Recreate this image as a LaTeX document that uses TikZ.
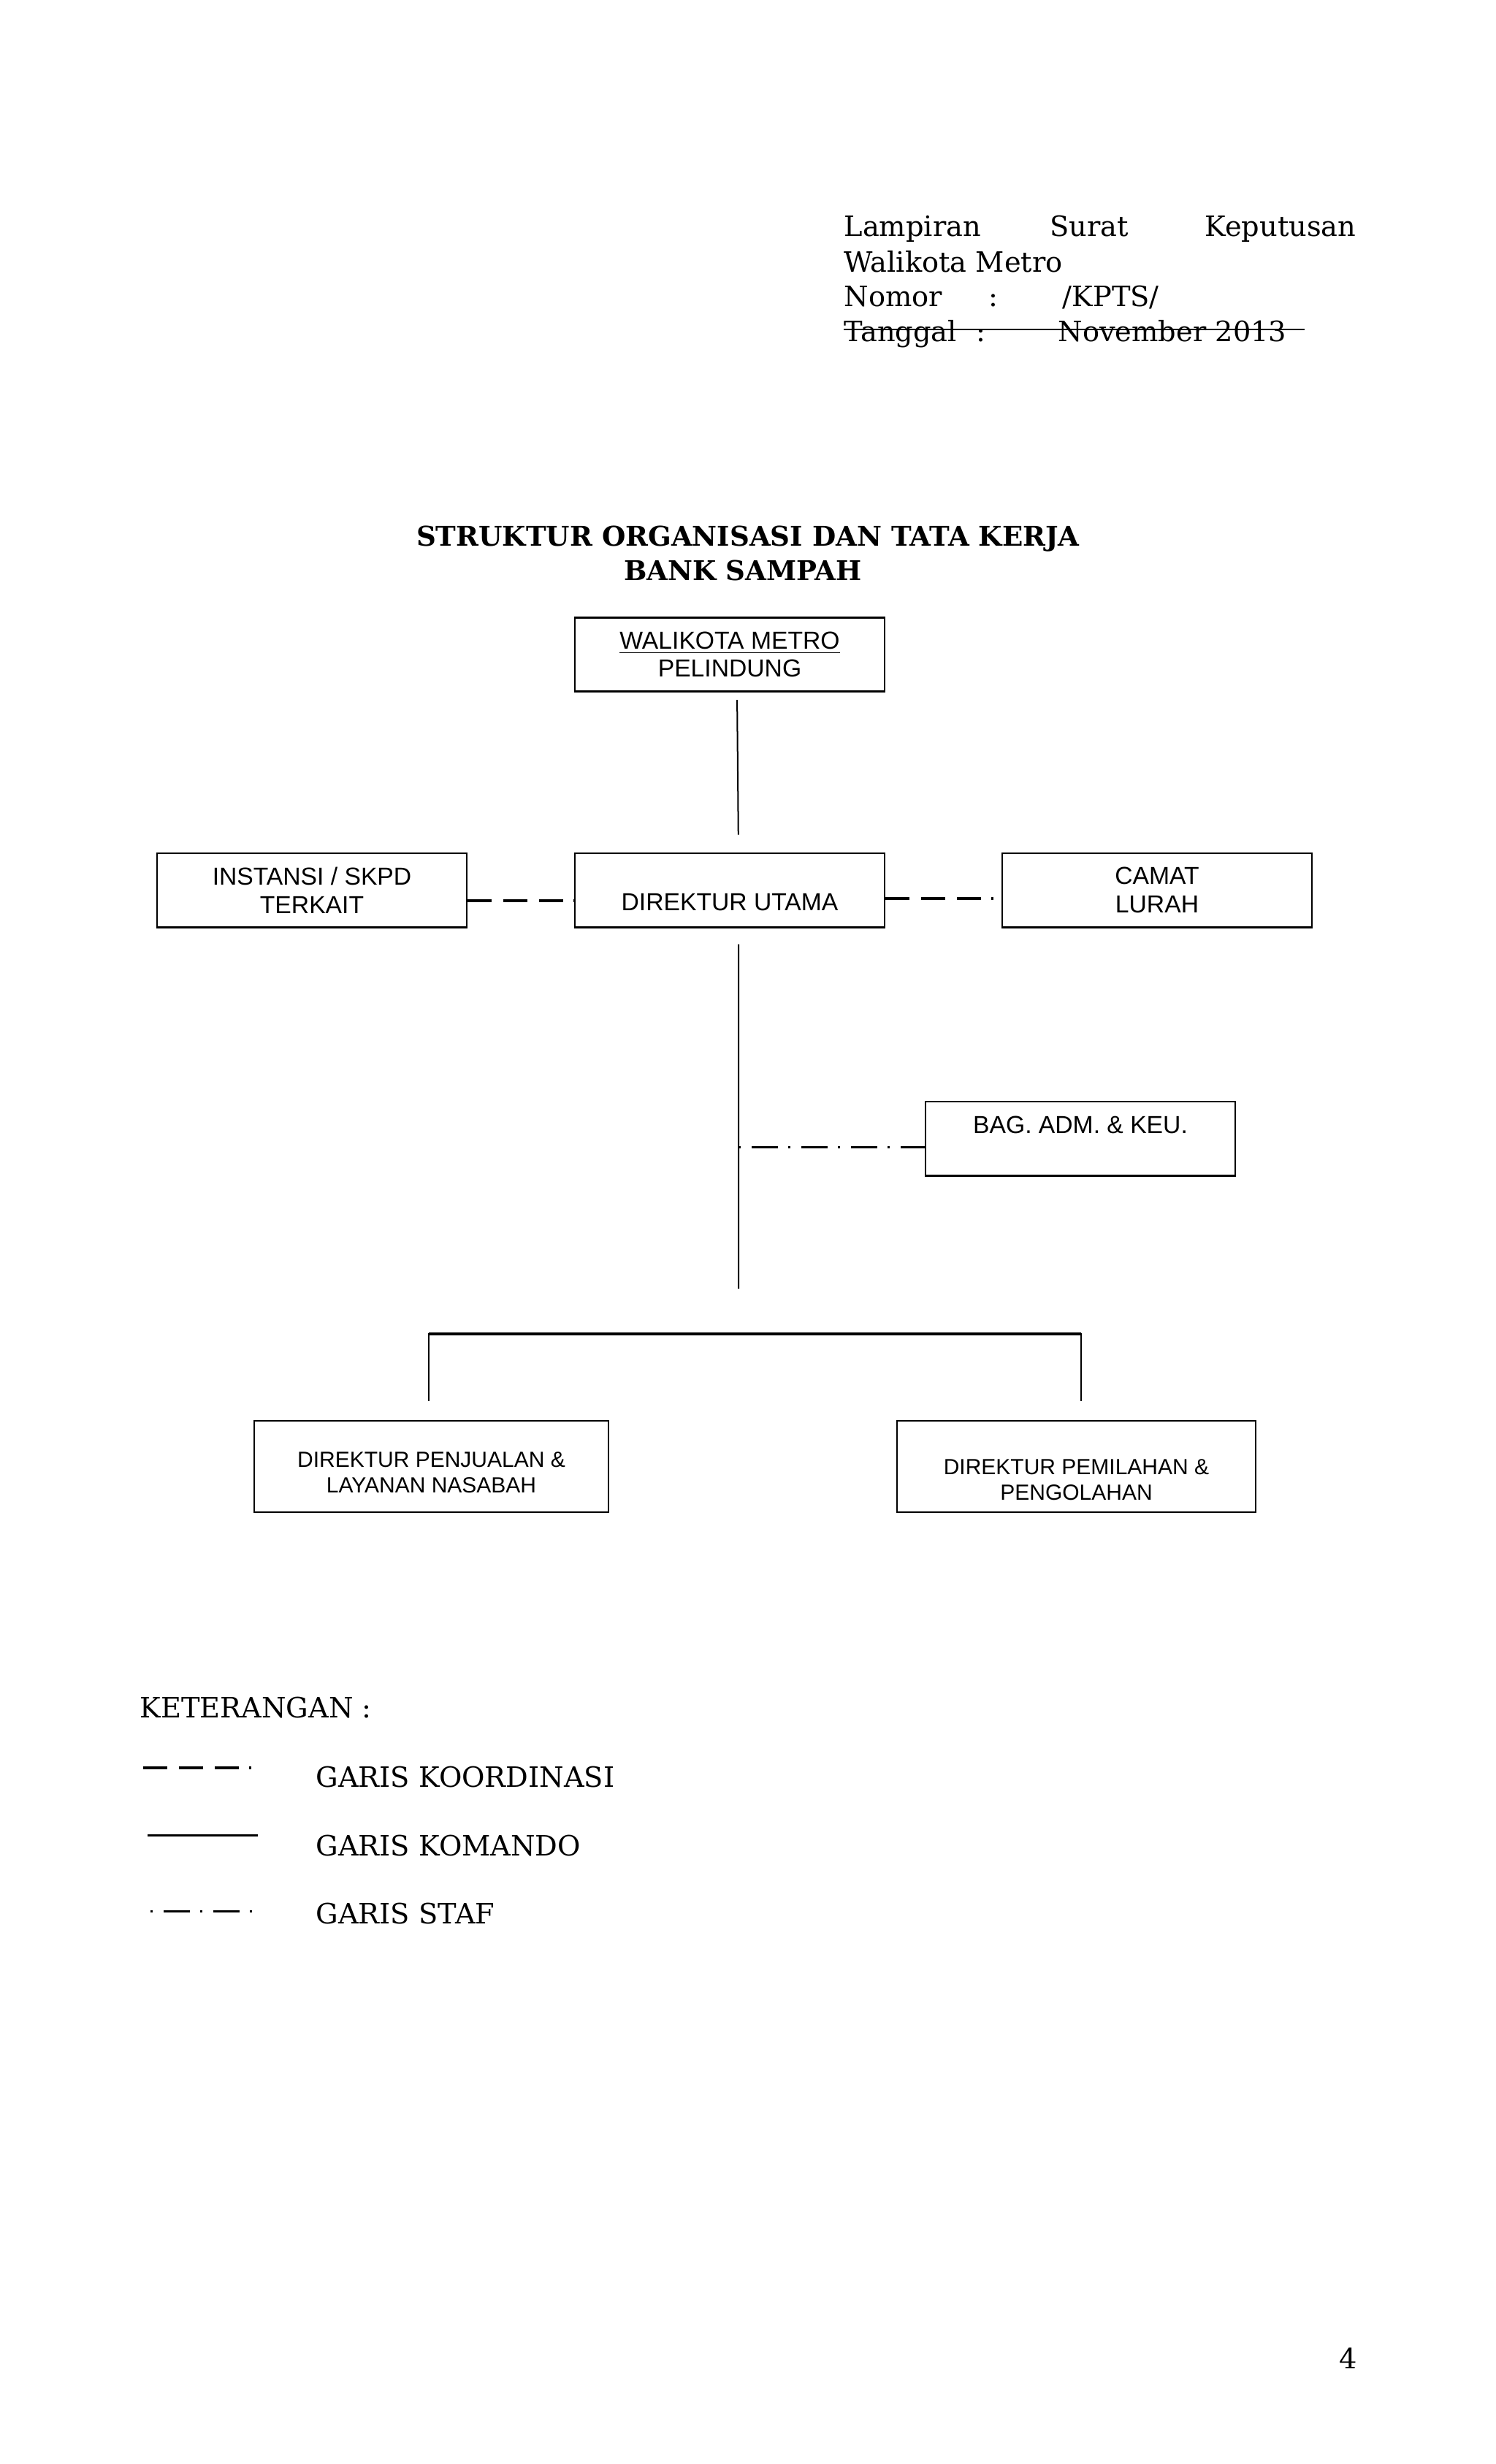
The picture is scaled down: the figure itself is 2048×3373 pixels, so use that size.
\documentclass[tikz,border=0pt]{standalone}
\usepackage{fontspec}
\setmainfont{DejaVu Serif}
\newfontfamily\boxfont{Liberation Sans}
\begin{document}
\begin{tikzpicture}[x=0.3pt,y=-0.3pt,
  txt/.style={inner sep=0pt, font=\fontsize{11.5}{13.8}\selectfont},
  ttl/.style={inner sep=0pt, font=\bfseries\fontsize{11.15}{13}\selectfont},
  box/.style={draw, line width=0.8pt, inner sep=0pt, align=center, minimum width=127.2pt, minimum height=30.4pt, font=\boxfont\fontsize{10.1}{11.6}\selectfont},
  sbox/.style={box, minimum height=37.5pt},
  btxt/.style={inner sep=0pt, align=center, font=\boxfont\fontsize{10.1}{11.6}\selectfont},
  sbtxt/.style={inner sep=0pt, align=center, font=\boxfont\fontsize{9}{10.5}\selectfont},
  komando/.style={line width=0.6pt},
  koordinasi/.style={line width=1.1pt, dash pattern=on 9.9pt off 4.8pt on 9.9pt off 4.8pt on 9.9pt off 4.2pt on 0.9pt off 6pt},
  staf/.style={line width=0.9pt, dash pattern=on 0.9pt off 4.5pt on 10.8pt off 4.2pt}]
\useasboundingbox[fill=white] (0,0) rectangle (2048,3373);

% header
\node[txt, anchor=base west] (l1a) at (1155,323) {Lampiran};
\node[txt, anchor=base west] (l1b) at (1437,323) {Surat};
\node[txt, anchor=base east] (l1c) at (1857,323) {Keputusan};
\node[txt, anchor=base west] (l2) at (1155,372) {Walikota Metro};
\node[txt, anchor=base west] (l3a) at (1155,419) {Nomor};
\node[txt, anchor=base west] (l3b) at (1353,419) {:};
\node[txt, anchor=base west] (l3c) at (1454,419) {/KPTS/};
\node[txt, anchor=base west] (l4a) at (1155,467) {Tanggal};
\node[txt, anchor=base west] (l4b) at (1336,467) {:};
\node[txt, anchor=base west] (l4c) at (1448,467) {November 2013};
\draw[line width=0.8pt] (l4a.base west |- 0,451) coordinate (strikeA) -- (1786,451) coordinate (strikeB);

% title
\node[ttl, anchor=base] (t1) at (1024,747) {STRUKTUR ORGANISASI DAN TATA KERJA};
\node[ttl, anchor=base] (t2) at (1017,794) {BANK SAMPAH};

% boxes
\node[box] (walikota) at (999,896) {\underline{WALIKOTA METRO}\\PELINDUNG};
\node[box] (instansi) at (427,1218.5) {INSTANSI / SKPD\\TERKAIT};
\node[box] (utama) at (999,1218.5) {};
\node[btxt] (utamaT) at ([yshift=-5pt]utama.center) {DIREKTUR UTAMA};
\node[box] (camat) at (1584,1218.5) {CAMAT\\LURAH};
\node[box] (bag) at (1479,1558.5) {};
\node[btxt] (bagT) at ([yshift=5.5pt]bag.center) {BAG. ADM. \& KEU.};
\node[sbox, minimum width=145.5pt] (penjualan) at (590.5,2007.5) {};
\node[sbtxt] (penjualanT) at ([yshift=-2.5pt]penjualan.center) {DIREKTUR PENJUALAN \&\\LAYANAN NASABAH};
\node[sbox, minimum width=147.3pt] (pemilahan) at (1473.5,2007.5) {};
\node[sbtxt] (pemilahanT) at ([yshift=-5.5pt]pemilahan.center) {DIREKTUR PEMILAHAN \&\\PENGOLAHAN};

% connectors
\coordinate (stem) at (1011,1764);
\coordinate (brL) at (587,1826);
\coordinate (brR) at (1480,1826);
\draw[komando, shorten <=3pt, shorten >=7.2pt] ([xshift=3pt]walikota.south) -- ([xshift=3.6pt]utama.north);
\draw[koordinasi] ([yshift=-4.35pt]instansi.east) -- ([yshift=-4.35pt]utama.west);
\draw[koordinasi, shorten >=2.4pt] ([yshift=-3.45pt]utama.east) -- ([yshift=-3.45pt]camat.west);
\draw[komando, shorten <=6.6pt] ([xshift=3.6pt]utama.south) -- (stem);
\draw[staf] ([yshift=-3.45pt]bag.west -| stem) -- ([yshift=-3.45pt]bag.west);
\draw[komando, shorten <=7.8pt, shorten >=7.8pt] (penjualan.north -| brL) -- (brL) -- (brR) -- (pemilahan.north -| brR);
\draw[line width=1.1pt] (brL) -- (brR);

% legend
\node[txt, anchor=base west] (ket) at (191,2351) {KETERANGAN :};
\draw[koordinasi] (196,2420) coordinate (k1) -- (346,2420) coordinate (k2);
\node[txt, anchor=base west] (g1) at (432,2446) {GARIS KOORDINASI};
\draw[line width=0.9pt] (202,2512) coordinate (m1) -- (353,2512) coordinate (m2);
\node[txt, anchor=base west] (g2) at (432,2540) {GARIS KOMANDO};
\draw[staf] (206,2616) coordinate (s1) -- (353,2616) coordinate (s2);
\node[txt, anchor=base west] (g3) at (432,2633) {GARIS STAF};

\node[txt, anchor=base] (pg) at (1846,3242) {4};
\end{tikzpicture}
\end{document}
